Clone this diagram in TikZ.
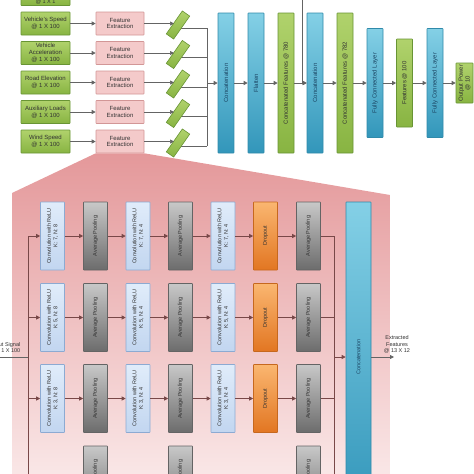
\documentclass[tikz,border=0pt]{standalone}
\usepackage{fontspec}
\setmainfont{Liberation Sans}
\usetikzlibrary{arrows.meta,positioning}

\definecolor{inTop}{RGB}{176,210,108}
\definecolor{inBot}{RGB}{136,180,66}
\definecolor{inLine}{RGB}{104,148,52}
\definecolor{feFill}{RGB}{244,202,202}
\definecolor{feLine}{RGB}{210,150,150}
\definecolor{blueL}{RGB}{132,208,230}
\definecolor{blueD}{RGB}{50,150,186}
\definecolor{blueLine}{RGB}{48,138,170}
\definecolor{convTop}{RGB}{224,236,250}
\definecolor{convBot}{RGB}{194,214,240}
\definecolor{convLine}{RGB}{140,170,210}
\definecolor{grayL}{RGB}{200,200,200}
\definecolor{grayD}{RGB}{108,108,108}
\definecolor{grayLine}{RGB}{100,100,100}
\definecolor{oraL}{RGB}{250,182,112}
\definecolor{oraD}{RGB}{226,118,34}
\definecolor{oraLine}{RGB}{198,104,30}
\definecolor{pinkTop}{RGB}{228,152,154}
\definecolor{pinkBot}{RGB}{250,232,232}
\definecolor{arrTop}{RGB}{100,100,100}
\definecolor{arrBot}{RGB}{120,72,72}
\definecolor{txt}{RGB}{50,50,50}
\definecolor{txtBlue}{RGB}{28,70,100}

\tikzset{
  >={Triangle[width=4pt,length=4pt]},
  box/.style={draw, rounded corners=0.5pt, line width=0.6pt, inner sep=1pt,
    align=center, text=txt, font=\fontsize{6}{6.8}\selectfont},
  inbox/.style={box, draw=inLine, top color=inTop, bottom color=inBot,
    minimum width=49pt, minimum height=23pt},
  febox/.style={box, draw=feLine, fill=feFill, minimum width=48pt, minimum height=23pt},
  slant/.style={draw=inLine, top color=inTop, bottom color=inBot, line width=0.6pt,
    rotate=55, minimum width=28pt, minimum height=9pt, inner sep=0pt},
  bluebar/.style={box, rotate=90, draw=blueLine, top color=blueL, bottom color=blueD,
    text=txtBlue, minimum height=16pt, minimum width=#1},
  greenbar/.style={box, rotate=90, draw=inLine, top color=inTop, bottom color=inBot,
    minimum height=16pt, minimum width=#1},
  cell/.style={box, rotate=90, font=\fontsize{5.5}{6.3}\selectfont,
    minimum width=68pt, minimum height=24pt},
  conv/.style={cell, draw=convLine, top color=convTop, bottom color=convBot},
  pool/.style={cell, draw=grayLine, top color=grayL, bottom color=grayD},
  drop/.style={cell, draw=oraLine, top color=oraL, bottom color=oraD},
  lbl/.style={font=\fontsize{5.5}{6.5}\selectfont, text=txt, align=center, inner sep=0.5pt},
  wire/.style={draw=arrTop, line width=0.7pt},
  link/.style={->, draw=arrTop, line width=0.7pt},
  flow/.style={->, draw=arrBot, line width=0.8pt},
}

\begin{document}
\begin{tikzpicture}[x=1pt,y=-1pt]
\useasboundingbox (0,0) rectangle (474,474);
\clip (0,0) rectangle (474,474);

% input signals
\node[inbox] (in0) at (45.5,-6) {};
\node[lbl, above=1pt of in0.south] {@ 1 X 1};
\node[inbox] (in1) at (45.5,23.5) {Vehicle's Speed\\@ 1 X 100};
\node[inbox] (in2) at (45.5,53) {Vehicle\\Acceleration\\@ 1 X 100};
\node[inbox] (in3) at (45.5,82.5) {Road Elevation\\@ 1 X 100};
\node[inbox] (in4) at (45.5,112) {Auxiliary Loads\\@ 1 X 100};
\node[inbox] (in5) at (45.5,141.5) {Wind Speed\\@ 1 X 100};

% feature extraction per signal
\coordinate (busT) at (207,28);
\coordinate (busB) at (207,146);
\draw[wire] (busT) -- (busB);
\foreach \i/\y in {1/23.5,2/53,3/82.5,4/112,5/141.5}{
  \node[febox] (fe\i) at (120,\y) {Feature\\Extraction};
  \draw[link] (in\i) -- (fe\i);
  \coordinate (s\i) at (178,\y+1.5);
  \draw[wire] ([yshift=-3pt]s\i) -- ([yshift=-3pt]s\i -| busT);
  \node[slant] (sl\i) at (s\i) {};
  \draw[link] (fe\i.east) -- ([xshift=-4pt]fe\i -| s\i);
}

% layers
\node[bluebar=140pt] (cat1) at (226,83) {Concatenation};
\node[bluebar=140pt] (flat) at (256,83) {Flatten};
\node[greenbar=140pt] (cf1) at (286,83) {Concatenated Features @ 780};
\node[bluebar=140pt] (cat2) at (315,83) {Concatenation};
\node[greenbar=140pt] (cf2) at (345,83) {Concatenated Features @ 782};
\node[bluebar=109pt] (fc1) at (375,83) {Fully Connected Layer};
\node[greenbar=88pt] (feat) at (404.5,83) {Features @ 100};
\node[bluebar=109pt] (fc2) at (435,83) {Fully Connected Layer};
\node[greenbar=40pt, minimum height=17pt] (outp) at (464.5,83) {Output Power\\@ 10};
\draw[link] (busT |- cat1) -- (cat1);
\draw[link] (cat1) -- (flat);
\draw[link] (flat) -- (cf1);
\draw[link] (cf1) -- (cat2);
\coordinate (extra) at (302,-2);
\draw[link] (extra) |- (cat2);
\draw[link] (cat2) -- (cf2);
\draw[link] (cf2) -- (fc1);
\draw[link] (fc1) -- (feat);
\draw[link] (feat) -- (fc2);
\draw[link] (fc2) -- (outp);

% zoomed feature extraction
\shade[top color=pinkTop, bottom color=pinkBot] (fe5.south west) -- (fe5.south east)
  -- (390,195) -- (390,480) -- (12,480) -- (12,193) -- cycle;

\coordinate (lbT) at (28,236);
\coordinate (lbB) at (28,480);
\coordinate (rbT) at (334,236);
\coordinate (rbB) at (334,480);
\draw[wire, draw=arrBot, line width=0.8pt] (lbT) -- (lbB);
\draw[wire, draw=arrBot, line width=0.8pt] (rbT) -- (rbB);

\foreach \r/\k/\y in {1/7/236,2/5/317.5,3/3/398.5}{
  \node[conv] (conv1-\r) at (52.5,\y) {Convolution with ReLU\\K: \k, N: 8};
  \node[pool] (pool1-\r) at (95.5,\y) {Average Pooling};
  \node[conv] (conv2-\r) at (138,\y) {Convolution with ReLU\\K: \k, N: 4};
  \node[pool] (pool2-\r) at (180.5,\y) {Average Pooling};
  \node[conv] (conv3-\r) at (223,\y) {Convolution with ReLU\\K: \k, N: 4};
  \node[drop] (drop-\r) at (265.5,\y) {Dropout};
  \node[pool] (pool3-\r) at (308.5,\y) {Average Pooling};
  \draw[flow] (lbT |- conv1-\r) -- (conv1-\r);
  \draw[flow] (conv1-\r) -- (pool1-\r);
  \draw[flow] (pool1-\r) -- (conv2-\r);
  \draw[flow] (conv2-\r) -- (pool2-\r);
  \draw[flow] (pool2-\r) -- (conv3-\r);
  \draw[flow] (conv3-\r) -- (drop-\r);
  \draw[flow] (drop-\r) -- (pool3-\r);
  \draw[wire, draw=arrBot, line width=0.8pt] (pool3-\r) -- (rbT |- pool3-\r);
}
\node[pool] (pool1-4) at (95.5,480) {Average Pooling};
\node[pool] (pool2-4) at (180.5,480) {Average Pooling};
\node[pool] (pool3-4) at (308.5,480) {Average Pooling};

\node[bluebar=310pt, minimum height=25pt, font=\fontsize{5.5}{6.3}\selectfont] (catx) at (358.5,357) {Concatenation};
\coordinate (sig) at (-2,357);
\draw[wire, draw=arrTop] (sig) -- (sig -| lbT);
\node[lbl, anchor=south east, align=right] (sigtxt) at (21,354) {Input Signal\\@ 1 X 100};
\draw[flow] (rbT |- catx) -- (catx);
\coordinate (ext) at (394,357);
\draw[flow, draw=arrTop] (catx) -- (ext);
\node[lbl, anchor=south] (exttxt) at (397,354) {Extracted\\Features\\@ 13 X 12};
\end{tikzpicture}
\end{document}
